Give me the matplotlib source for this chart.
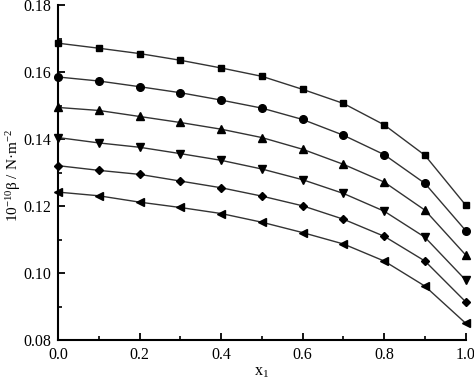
import matplotlib
matplotlib.use("Agg")
import matplotlib.pyplot as plt
from matplotlib.ticker import MultipleLocator, FormatStrFormatter

plt.rcParams['font.family'] = ['Liberation Serif', 'DejaVu Serif']
plt.rcParams['mathtext.fontset'] = 'custom'
plt.rcParams['mathtext.rm'] = 'Liberation Serif'
plt.rcParams['mathtext.it'] = 'Liberation Serif:italic'

x1 = [0.0, 0.1, 0.2, 0.3, 0.4, 0.5, 0.6, 0.7, 0.8, 0.9, 1.0]
s_square = [0.1687, 0.1672, 0.1656, 0.1636, 0.1613, 0.1588, 0.1549, 0.1507, 0.1443, 0.1352, 0.1203]
s_circle = [0.1586, 0.1574, 0.1557, 0.1539, 0.1517, 0.1493, 0.1459, 0.1412, 0.1354, 0.1268, 0.1127]
s_up = [0.1495, 0.1486, 0.1468, 0.1450, 0.1430, 0.1405, 0.1370, 0.1325, 0.1272, 0.1188, 0.1054]
s_down = [0.1405, 0.1389, 0.1376, 0.1357, 0.1337, 0.1311, 0.1279, 0.1238, 0.1185, 0.1107, 0.0979]
s_diamond = [0.1321, 0.1307, 0.1295, 0.1275, 0.1255, 0.1230, 0.1201, 0.1161, 0.1110, 0.1036, 0.0914]
s_left = [0.1242, 0.1231, 0.1212, 0.1196, 0.1178, 0.1152, 0.1121, 0.1087, 0.1036, 0.0961, 0.0850]

series = [(s_square, 's', 5.0), (s_circle, 'o', 5.5), (s_up, '^', 6),
          (s_down, 'v', 6), (s_diamond, 'D', 4.5), (s_left, '<', 6)]

fig = plt.figure(figsize=(4.74, 3.90), dpi=100)
ax = fig.add_axes([0.1224, 0.1282, 0.8601, 0.858])
for ys, m, ms in series:
    ax.plot(x1, ys, color='#333333', lw=1.0, marker=m, ms=ms,
            mfc='black', mec='black', clip_on=False, zorder=3)

ax.set_xlim(0.0, 1.0)
ax.set_ylim(0.08, 0.18)
ax.xaxis.set_major_locator(MultipleLocator(0.2))
ax.xaxis.set_minor_locator(MultipleLocator(0.1))
ax.yaxis.set_major_locator(MultipleLocator(0.02))
ax.yaxis.set_minor_locator(MultipleLocator(0.01))
ax.xaxis.set_major_formatter(FormatStrFormatter('%.1f'))
ax.yaxis.set_major_formatter(FormatStrFormatter('%.2f'))
for s in ['top', 'right']:
    ax.spines[s].set_visible(False)
for s in ['left', 'bottom']:
    ax.spines[s].set_linewidth(1.5)
ax.tick_params(which='major', direction='in', length=5, width=1.3, labelsize=11.5, pad=5)
ax.tick_params(which='minor', direction='in', length=3, width=1.2)

fig.text(0.552, 0.045, r'x$_{\mathit{1}}$', fontsize=11.5, ha='center', va='center')
fig.text(0.028, 0.55, r'10$^{-10}$β / N·m$^{-2}$', fontsize=11, rotation=90,
         ha='center', va='center')

fig.savefig('out.png', dpi=100)
